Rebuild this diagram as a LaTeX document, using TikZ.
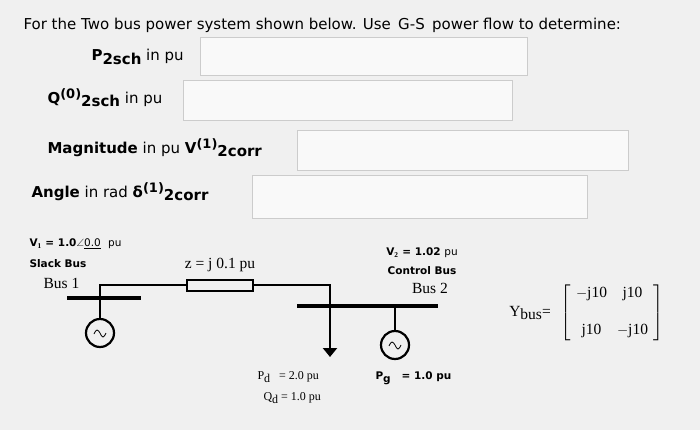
\documentclass[tikz,border=0pt]{standalone}
\usepackage{amsmath,amssymb}
\usepackage{fontspec}
\setmainfont{Liberation Serif}
\newfontfamily\sans{DejaVu Sans}
\usetikzlibrary{arrows.meta}
\newcommand{\supr}[1]{\raisebox{0.55ex}{\fontsize{13}{14}\selectfont #1}}
\newcommand{\subr}[1]{\raisebox{-0.45ex}{#1}}
\begin{document}
\begin{tikzpicture}[x=1pt,y=-1pt,
  ansbox/.style={draw=gray!40,line width=0.8pt,fill=gray!5},
  q/.style={anchor=west,font=\sans\fontsize{15}{17}\selectfont},
  wire/.style={line width=2.8pt},
  busbar/.style={line width=4pt},
  sm/.style={font=\sans\bfseries\fontsize{10.5}{12}\selectfont},
  tm/.style={font=\fontsize{15.5}{17}\selectfont}]
\fill[gray!12] (0,0) rectangle (700,430);
\useasboundingbox (0,0) rectangle (700,430);
\node[q] (h) at (20,25) {For the Two bus power system shown below. Use\, G-S\, power flow to determine:};
\draw[ansbox] (200,37) rectangle (527,75);
\node[q] (l1) at (88,57) {\textbf{P\subr{2sch}} in pu};
\draw[ansbox] (183,80) rectangle (512,120);
\node[q] (l2) at (44,98) {\textbf{Q\supr{(0)}\subr{2sch}} in pu};
\draw[ansbox] (297,130) rectangle (628,170);
\node[q] (l3) at (44,148) {\textbf{Magnitude} in pu \textbf{V\supr{(1)}\subr{2corr}}};
\draw[ansbox] (252,175) rectangle (587,218);
\node[q] (l4) at (28,192) {\textbf{Angle} in rad \textbf{δ\supr{(1)}\subr{2corr}}};
% circuit
\node[sm,anchor=west] (v1) at (26,244) {V$_{\mathbf 1}$ = 1.0$\angle$\underline{\textmd{0.0}}\ \ \textmd{pu}};
\node[sm,anchor=west] (sb) at (26,264) {Slack Bus};
\node[tm,anchor=west] (b1) at (40,283) {Bus 1};
\node[tm] (z) at (220,265) {z = j 0.1 pu};
\node[sm] (v2) at (422,253) {V$_{\mathbf 2}$ = 1.02 \textmd{pu}};
\node[sm] (cb) at (422,271) {Control Bus};
\node[tm] (b2) at (430,288) {Bus 2};
\coordinate (b1l) at (67,298); \coordinate (b1r) at (141,298);
\draw[busbar] (b1l) -- (b1r);
\coordinate (b2l) at (297,306); \coordinate (b2r) at (438,306);
\draw[busbar] (b2l) -- (b2r);
\node[draw,line width=2pt,minimum width=66pt,minimum height=11pt,inner sep=0pt] (res) at (220,285) {};
\draw[wire] (100,312) -- (100,285) -- (res.west);
\draw[wire] (res.east) -- (330,285) -- (330,345);
\draw[-{Triangle[length=9pt,width=14pt]},wire] (330,306) -- (330,357);
\node[draw,circle,line width=2.2pt,minimum size=28pt] (g1) at (100,333) {};
\draw[line width=2pt] (100,298) -- (g1.north);
\draw[line width=0.8pt] (94,334) sin (97,330) cos (100,333) sin (103,337) cos (106,333);
\node[draw,circle,line width=2.2pt,minimum size=28pt] (g2) at (395,345) {};
\draw[line width=2pt] (395,306) -- (g2.north);
\draw[line width=0.8pt] (389,346) sin (392,342) cos (395,345) sin (398,349) cos (401,345);
\node[font=\fontsize{12}{13}\selectfont,anchor=west] (pd) at (254,377) {P\subr{d}\ \ \ = 2.0 pu};
\node[font=\fontsize{12}{13}\selectfont,anchor=west] (qd) at (260,398) {Q\subr{d} = 1.0 pu};
\node[sm,anchor=west] (pg) at (372,378) {P\subr{g}\ \ \ = 1.0 pu};
% Ybus
\node[tm] (yb) at (530,313) {Y\subr{bus}=};
\node[tm] (m) at (612,313) {$\left[\begin{array}{cc}\mathrm{-j10} & \mathrm{j10}\\[20pt] \mathrm{j10} & \mathrm{-j10}\end{array}\right]$};
\end{tikzpicture}
\end{document}
